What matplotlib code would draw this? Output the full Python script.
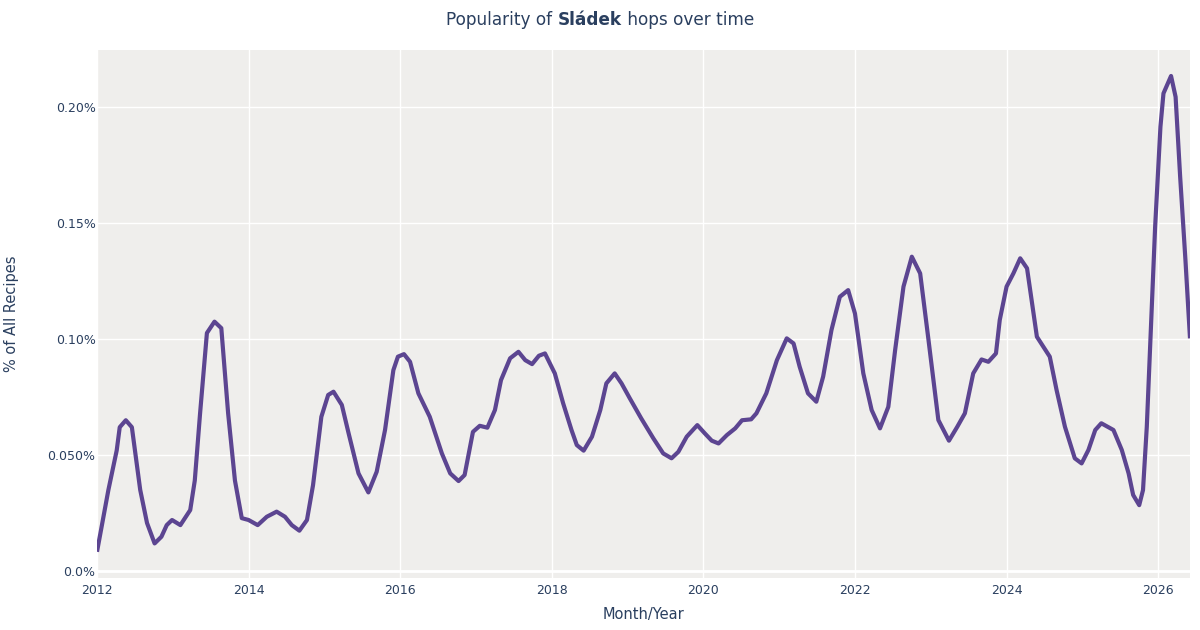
import matplotlib
matplotlib.use("Agg")
import matplotlib.pyplot as plt

# decimal year, % of all recipes
years = [
    2012.00, 2012.15, 2012.26, 2012.30, 2012.38, 2012.46, 2012.57, 2012.66, 2012.76, 2012.85,
    2012.92, 2012.99, 2013.10, 2013.23, 2013.29, 2013.36, 2013.45, 2013.55, 2013.64, 2013.73,
    2013.82, 2013.91, 2014.00, 2014.12, 2014.24, 2014.37, 2014.48, 2014.57, 2014.67, 2014.77,
    2014.85, 2014.96, 2015.05, 2015.12, 2015.23, 2015.32, 2015.45, 2015.58, 2015.69, 2015.80,
    2015.91, 2015.97, 2016.05, 2016.13, 2016.24, 2016.39, 2016.55, 2016.66, 2016.77, 2016.85,
    2016.96, 2017.05, 2017.15, 2017.25, 2017.33, 2017.45, 2017.56, 2017.65, 2017.74, 2017.83,
    2017.91, 2018.04, 2018.15, 2018.26, 2018.33, 2018.42, 2018.53, 2018.64, 2018.72, 2018.83,
    2018.92, 2019.03, 2019.18, 2019.34, 2019.47, 2019.58, 2019.67, 2019.78, 2019.92, 2020.02,
    2020.11, 2020.20, 2020.31, 2020.42, 2020.51, 2020.63, 2020.70, 2020.83, 2020.97, 2021.10,
    2021.19, 2021.27, 2021.38, 2021.49, 2021.58, 2021.69, 2021.80, 2021.91, 2022.00, 2022.11,
    2022.22, 2022.33, 2022.44, 2022.53, 2022.64, 2022.75, 2022.86, 2022.97, 2023.10, 2023.24,
    2023.35, 2023.45, 2023.56, 2023.67, 2023.76, 2023.86, 2023.91, 2024.00, 2024.09, 2024.18,
    2024.27, 2024.33, 2024.40, 2024.57, 2024.66, 2024.77, 2024.90, 2024.99, 2025.08, 2025.17,
    2025.25, 2025.41, 2025.52, 2025.61, 2025.67, 2025.75, 2025.80, 2025.85, 2025.89, 2025.96,
    2026.03, 2026.07, 2026.17, 2026.23, 2026.29, 2026.36, 2026.42,
]
popularity = [
    0.0083, 0.0349, 0.0520, 0.0620, 0.0650, 0.0620, 0.0350, 0.0207, 0.0119, 0.0148,
    0.0198, 0.0220, 0.0198, 0.0263, 0.0390, 0.0680, 0.1026, 0.1075, 0.1047, 0.0680,
    0.0390, 0.0228, 0.0220, 0.0198, 0.0234, 0.0256, 0.0234, 0.0198, 0.0174, 0.0220,
    0.0370, 0.0665, 0.0759, 0.0773, 0.0716, 0.0593, 0.0421, 0.0339, 0.0428, 0.0608,
    0.0866, 0.0924, 0.0935, 0.0902, 0.0766, 0.0665, 0.0507, 0.0421, 0.0388, 0.0414,
    0.0600, 0.0626, 0.0618, 0.0694, 0.0823, 0.0917, 0.0945, 0.0909, 0.0892, 0.0928,
    0.0938, 0.0852, 0.0723, 0.0608, 0.0543, 0.0519, 0.0579, 0.0694, 0.0809, 0.0852,
    0.0809, 0.0744, 0.0658, 0.0572, 0.0507, 0.0486, 0.0514, 0.0579, 0.0629, 0.0593,
    0.0562, 0.0550, 0.0586, 0.0615, 0.0650, 0.0654, 0.0680, 0.0766, 0.0909, 0.1003,
    0.0981, 0.0881, 0.0766, 0.0730, 0.0838, 0.1039, 0.1182, 0.1211, 0.1110, 0.0852,
    0.0694, 0.0615, 0.0708, 0.0953, 0.1226, 0.1355, 0.1283, 0.0996, 0.0651, 0.0562,
    0.0622, 0.0680, 0.0852, 0.0912, 0.0902, 0.0938, 0.1082, 0.1226, 0.1283, 0.1348,
    0.1305, 0.1168, 0.1010, 0.0924, 0.0780, 0.0622, 0.0486, 0.0464, 0.0522, 0.0608,
    0.0637, 0.0608, 0.0522, 0.0421, 0.0328, 0.0284, 0.0349, 0.0622, 0.0938, 0.1484,
    0.1915, 0.2059, 0.2134, 0.2044, 0.1700, 0.1340, 0.1003,
]

y_ticks = [0.0, 0.05, 0.10, 0.15, 0.20]
y_tick_labels = ["0.0%", "0.050%", "0.10%", "0.15%", "0.20%"]
x_ticks = [2012, 2014, 2016, 2018, 2020, 2022, 2024, 2026]

text_color = "#2a3f5f"

fig = plt.figure(figsize=(12, 6.3), dpi=100)
ax = fig.add_axes([97 / 1200, 52 / 630, 1093 / 1200, 528 / 630])
ax.set_facecolor("#efeeec")

ax.plot(years, popularity, color="#5c4591", linewidth=3, solid_joinstyle="round",
        solid_capstyle="butt", zorder=3)

ax.set_xlim(2012, 2026.42)
ax.set_ylim(-0.003, 0.2246)
ax.set_xticks(x_ticks)
ax.set_xticklabels([str(t) for t in x_ticks])
ax.set_yticks(y_ticks)
ax.set_yticklabels(y_tick_labels)
ax.grid(True, color="white", linewidth=1)
ax.axhline(0, color="white", linewidth=2, zorder=1)
ax.set_axisbelow(True)
for s in ax.spines.values():
    s.set_visible(False)
ax.tick_params(length=0, labelsize=9, labelcolor=text_color)
ax.tick_params(axis="y", pad=1)
ax.tick_params(axis="x", pad=4)

ax.set_xlabel("Month/Year", fontsize=10.5, color=text_color)
ax.set_ylabel("% of All Recipes", fontsize=10.5, color=text_color)
ax.xaxis.set_label_coords(0.5, -(614 - 578) / 528)
ax.yaxis.set_label_coords((12 - 97) / 1093, 0.5)
ax.xaxis.label.set_va("center")
ax.yaxis.label.set_va("center")

# title with the hop name in bold
fig.canvas.draw()
r = fig.canvas.get_renderer()
parts = [("Popularity of ", "normal"), ("Sládek", "bold"), (" hops over time", "normal")]
texts = [fig.text(0, 0.968, p, fontsize=12.2, fontweight=w, color=text_color, va="center")
         for p, w in parts]
widths = [t.get_window_extent(r).width for t in texts]
x0 = (1200 - sum(widths)) / 2
for t, w in zip(texts, widths):
    t.set_x(x0 / 1200)
    x0 += w

fig.savefig("out.png", dpi=100)
